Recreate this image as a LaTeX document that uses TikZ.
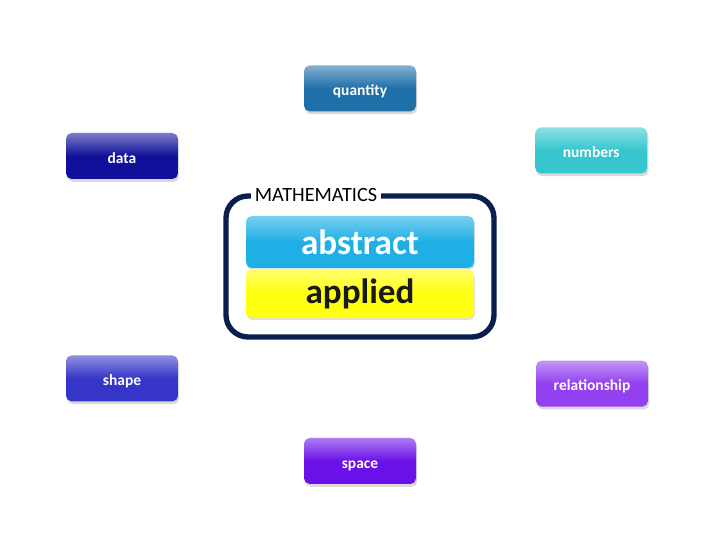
\documentclass[tikz,border=0pt]{standalone}
\usepackage{fontspec}
\setmainfont{Carlito}
\usetikzlibrary{shadows}

\definecolor{quantityblue}{HTML}{1F6FA8}
\definecolor{numberscyan}{HTML}{35C6CF}
\definecolor{datanavy}{HTML}{10109A}
\definecolor{shapeblue}{HTML}{3535C8}
\definecolor{relpurple}{HTML}{9340F0}
\definecolor{spaceviolet}{HTML}{6A10E8}
\definecolor{abstractblue}{HTML}{1EAFE6}
\definecolor{appliedyellow}{HTML}{FFFF10}
\definecolor{framenavy}{HTML}{0B1F4F}

\tikzset{
    topicbox/.style={rounded corners=4pt, minimum width=2.8cm, minimum height=1.15cm,
        text=white, font=\fontsize{11}{13}\selectfont\bfseries,
        text height=2.1ex, text depth=0pt,
        top color=#1!55!white, bottom color=#1, middle color=#1,
        drop shadow={opacity=0.3, shadow xshift=0.03cm, shadow yshift=-0.07cm}},
    bigbox/.style={rounded corners=4pt, minimum width=5.7cm,
        font=\fontsize{25}{28}\selectfont\bfseries,
        top color=#1!60!white, bottom color=#1, middle color=#1,
        drop shadow={opacity=0.25, shadow xshift=0.02cm, shadow yshift=-0.05cm}}
}

\begin{document}
\begin{tikzpicture}
    \useasboundingbox (0,0) rectangle (18,13.5);

    % Draw the six topics around the centre
    \node[topicbox=quantityblue] (quantity) at (9.0, 11.29) {quantity};
    \node[topicbox=numberscyan] (numbers) at (14.78, 9.74) {numbers};
    \node[topicbox=datanavy] (data) at (3.05, 9.6) {data};
    \node[topicbox=shapeblue] (shape) at (3.05, 4.04) {shape};
    \node[topicbox=relpurple] (relationship) at (14.8, 3.91) {relationship};
    \node[topicbox=spaceviolet] (space) at (9.0, 1.975) {space};

    % Draw the frame and its label
    \draw[line width=3.8pt, framenavy, rounded corners=0.55cm] (5.65,5.075) rectangle (12.35,8.6);
    \node[fill=white, inner sep=3pt, font=\fontsize{14.4}{16}\selectfont] (maths) at (7.9, 8.625) {MATHEMATICS};

    % Draw the two kinds inside
    \node[bigbox=abstractblue, minimum height=1.3cm, text=white] (abstract) at (9.0, 7.45) {abstract};
    \node[bigbox=appliedyellow, minimum height=1.225cm, text=black!90] (applied) at (9.0, 6.16) {applied};
\end{tikzpicture}
\end{document}
